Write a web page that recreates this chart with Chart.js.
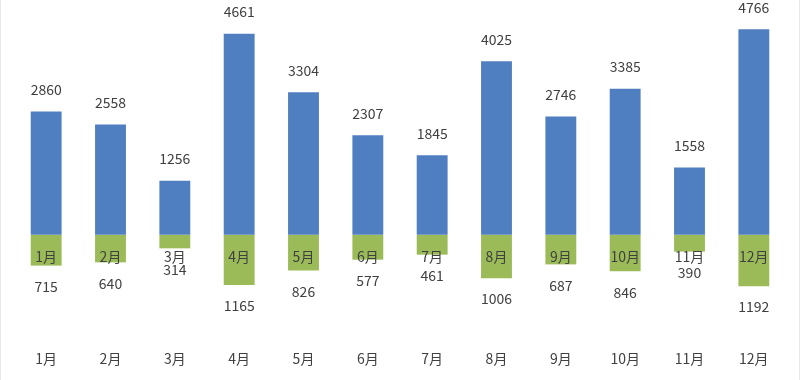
<!DOCTYPE html>
<html>
<head>
<meta charset="utf-8">
<script src="https://cdn.jsdelivr.net/npm/chart.js@4/dist/chart.umd.min.js"></script>
<style>
    html, body { margin: 0; padding: 0; background: #fff; }
    .box { width: 800px; height: 380px; box-sizing: border-box; border-left: 1px solid #e8e8e8; border-right: 1px solid #e8e8e8; }
    canvas { display: block; }
</style>
</head>
<body>
<div class="box"><canvas id="chart" width="798" height="380"></canvas></div>
<script>
const months = ['1月', '2月', '3月', '4月', '5月', '6月', '7月', '8月', '9月', '10月', '11月', '12月'];
const upValues = [2860, 2558, 1256, 4661, 3304, 2307, 1845, 4025, 2746, 3385, 1558, 4766];
const downValues = [715, 640, 314, 1165, 826, 577, 461, 1006, 687, 846, 390, 1192];

const FONT = '"Noto Sans CJK SC", "Noto Sans", sans-serif';
const TEXT = '#404040';

// value labels above/below bars, month names inside the green bars
const barLabels = {
    id: 'barLabels',
    afterDatasetsDraw(chart) {
        const ctx = chart.ctx;
        ctx.save();
        ctx.font = '14px ' + FONT;
        ctx.fillStyle = TEXT;
        ctx.textAlign = 'center';
        ctx.textBaseline = 'middle';
        chart.getDatasetMeta(0).data.forEach((bar, i) => {
            ctx.fillText(String(upValues[i]), bar.x, bar.y - 22);
        });
        chart.getDatasetMeta(1).data.forEach((bar, i) => {
            ctx.fillText(months[i], bar.x, bar.base + 22);
            ctx.fillText(String(downValues[i]), bar.x, bar.y + 21);
        });
        ctx.restore();
    }
};

new Chart(document.getElementById('chart'), {
    type: 'bar',
    data: {
        labels: months,
        datasets: [{
            data: upValues,
            backgroundColor: '#4f7fc0'
        }, {
            data: downValues.map(v => -v),
            backgroundColor: '#9bbb59'
        }]
    },
    options: {
        responsive: false,
        animation: false,
        events: [],
        layout: { padding: { left: 13, right: 13, top: 2, bottom: 7 } },
        datasets: { bar: { barPercentage: 0.48, categoryPercentage: 1 } },
        scales: {
            x: {
                stacked: true,
                grid: { display: false },
                border: { display: false },
                ticks: { padding: 21, color: TEXT, maxRotation: 0, autoSkip: false, font: { family: FONT, size: 14 } },
                afterFit: s => { s.height = 52; }
            },
            y: {
                stacked: true,
                min: -2000,
                max: 5400,
                ticks: { display: false, stepSize: 1000 },
                border: { display: false },
                grid: {
                    drawTicks: false,
                    color: c => c.tick && c.tick.value === 0 ? '#d9d9d9' : 'rgba(0,0,0,0)'
                }
            }
        },
        plugins: {
            legend: { display: false },
            tooltip: { enabled: false }
        }
    },
    plugins: [barLabels]
});
</script>
</body>
</html>
